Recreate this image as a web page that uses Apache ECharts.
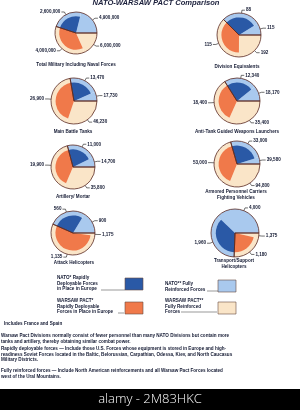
<!DOCTYPE html>
<html><head><meta charset="utf-8">
<script src="https://cdn.jsdelivr.net/npm/echarts@6/dist/echarts.min.js"></script>
<style>html,body{margin:0;padding:0;background:#fff}#c{width:300px;height:410px}</style>
</head><body><div id="c"></div>
<script>
const categories = ['Total Military Including Naval Forces','Division Equivalents','Main Battle Tanks','Anti-Tank Guided Weapons Launchers','Artillery/ Mortar','Armored Personnel Carriers\nFighting Vehicles','Attack Helicopters','Transport/Support\nHelicopters'];
const natoRapid = [2600000, 88, 13470, 12340, 11000, 33000, 560, 1960];
const natoFull  = [4900000, 115, 17730, 18170, 14700, 39580, 900, 4000];
const wpRapid   = [4000000, 115, 26900, 18400, 19900, 53000, 1135, 1180];
const wpFull    = [6000000, 192, 46230, 35400, 35800, 94800, 1175, 1375];
const legendLabels = ['NATO* Rapidly\nDeployable Forces\nin Place in Europe','WARSAW PACT*\nRapidly Deployable\nForces in Place in Europe','NATO** Fully\nReinforced Forces','WARSAW PACT**\nFully Reinforced\nForces'];
const mainTitle = 'NATO-WARSAW PACT Comparison';
const footnotes = [
 'Includes France and Spain',
 'Warsaw Pact Divisions normally consist of fewer personnel than many NATO Divisions but contain more\ntanks and artillery, thereby obtaining similar combat power.',
 'Rapidly deployable forces \u2014 Include those U.S. Forces whose equipment is stored in Europe and high-\nreadiness Soviet Forces located in the Baltic, Belorussian, Carpathian, Odessa, Kiev, and North Caucasus\nMilitary Districts.',
 'Fully reinforced forces \u2014 Include North American reinforcements and all Warsaw Pact Forces located\nwest of the Ural Mountains.'
];
const watermark = 'alamy - 2M83HKC';

// layout (positions / sizes)
const centers = [[76,33],[239,35],[74,101],[237,101],[73,167],[237,164],[73,233],[235,233]];
const radii = [21,22,23,23,22,23,22,24];
const titlePos = [[76,65],[237,67],[73,132],[237,132],[73,197],[236,195],[74,263],[234,264]];

const DB='#2a59a6', LB='#a9c9ee', OR='#f0794a', CR='#fae5c8', OUT='#5a2a22', TXT='#141a33';
const FF='"Liberation Sans", Arial, sans-serif';
function fmt(n){return String(n).replace(/\B(?=(\d{3})+(?!\d))/g, ',');}

const series=[];
categories.forEach((c,i)=>{
  const base={type:'pie',center:centers[i],radius:radii[i],clockwise:false,startAngle:0,animation:false,silent:true,
    avoidLabelOverlap:true,
    label:{show:true,position:'outside',formatter:p=>p.data.txt,fontSize:4.6,fontWeight:'bold',color:TXT,fontFamily:FF,distanceToLabelLine:1},
    labelLine:{show:true,length:3,length2:3,lineStyle:{color:'#111',width:0.6}},
    itemStyle:{borderWidth:0},
    data:[
      {value:natoFull[i]-natoRapid[i],txt:fmt(natoFull[i]),itemStyle:{color:LB}},
      {value:natoRapid[i],txt:fmt(natoRapid[i]),itemStyle:{color:LB}},
      {value:wpRapid[i],txt:fmt(wpRapid[i]),itemStyle:{color:CR}},
      {value:wpFull[i]-wpRapid[i],txt:fmt(wpFull[i]),itemStyle:{color:CR}}
    ]};
  const inner={type:'pie',center:centers[i],radius:radii[i]*0.8,clockwise:false,startAngle:0,animation:false,silent:true,
    label:{show:false},labelLine:{show:false},itemStyle:{borderWidth:0},
    data:[
      {value:natoFull[i]-natoRapid[i],itemStyle:{color:'rgba(0,0,0,0)'}},
      {value:natoRapid[i],itemStyle:{color:DB}},
      {value:wpRapid[i],itemStyle:{color:OR}},
      {value:wpFull[i]-wpRapid[i],itemStyle:{color:'rgba(0,0,0,0)'}}
    ]};
  const outline={type:'pie',center:centers[i],radius:radii[i],clockwise:false,startAngle:0,animation:false,silent:true,
    label:{show:false},labelLine:{show:false},
    itemStyle:{color:'rgba(0,0,0,0)',borderColor:OUT,borderWidth:0.8},
    data:[{value:natoFull[i]},{value:wpFull[i]}]};
  series.push(base,inner,outline);
});

const g=[];
function txt(x,y,s,o){g.push(Object.assign({type:'text',x:x,y:y,silent:true,style:Object.assign({text:s,fill:TXT,font:'bold 4.6px '+FF,lineHeight:5.6},o||{})}));}
txt(156,3,mainTitle,{font:'italic bold 7.6px '+FF,textAlign:'center',textVerticalAlign:'middle',fill:'#1a1e3a'});
categories.forEach((c,i)=>txt(titlePos[i][0],titlePos[i][1],c,{textAlign:'center',textVerticalAlign:'middle'}));
// legend
const legBoxes=[[125,278,DB],[125,302,OR],[218,280,LB],[218,302,CR]];
const legText=[[57,275],[57,298],[165,281],[165,298]];
legendLabels.forEach((s,i)=>{
  txt(legText[i][0],legText[i][1],s,{textAlign:'left',textVerticalAlign:'top'});
  g.push({type:'rect',silent:true,shape:{x:legBoxes[i][0],y:legBoxes[i][1],width:18,height:12},style:{fill:legBoxes[i][2],stroke:'#6a4a40',lineWidth:0.6}});
});
const legLines=[[101,290,125],[118,313,124],[207,291,218],[181,312,217]];
legLines.forEach(l=>g.push({type:'line',silent:true,shape:{x1:l[0],y1:l[1],x2:l[2],y2:l[1]},style:{stroke:'#333',lineWidth:0.5}}));
// footnotes
const footY=[321,333,346,368];
footnotes.forEach((s,i)=>txt(i===0?4:1,footY[i],s,{textAlign:'left',textVerticalAlign:'top',lineHeight:5.5}));
// watermark bar
g.push({type:'rect',silent:true,shape:{x:0,y:389,width:300,height:21},style:{fill:'#000'}});
txt(150,399,watermark,{font:'300 13px "Open Sans", '+FF,fill:'#fff',textAlign:'center',textVerticalAlign:'middle'});

const chart=echarts.init(document.getElementById('c'),null,{renderer:'canvas'});
chart.setOption({backgroundColor:'#ffffff',animation:false,series:series,graphic:g});
</script></body></html>
